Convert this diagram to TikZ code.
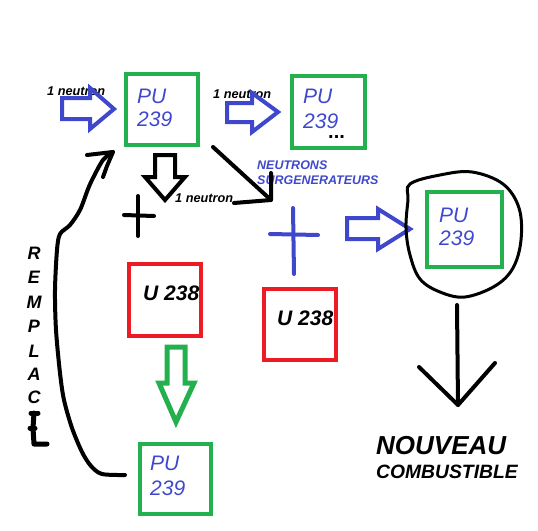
\documentclass[tikz,border=0pt]{standalone}
\usepackage{fontspec}
\setmainfont{Liberation Sans}
\definecolor{pblue}{HTML}{3F48CC}
\definecolor{pgreen}{HTML}{22B14C}
\definecolor{pred}{HTML}{ED1C24}
\begin{document}
\begin{tikzpicture}[x=1pt,y=-1pt,
  gbox/.style={draw=pgreen,line width=4pt,anchor=north west,inner sep=0pt,minimum width=72pt,minimum height=71pt},
  rbox/.style={draw=pred,line width=4pt,anchor=north west,inner sep=0pt,minimum width=72pt,minimum height=72pt},
  putxt/.style={anchor=base west,inner sep=0pt,text=pblue,font=\fontsize{21}{21}\selectfont\itshape},
  utxt/.style={anchor=base west,inner sep=0pt,font=\fontsize{21}{21}\selectfont\bfseries\itshape},
  ntxt/.style={anchor=base west,inner sep=0pt,font=\fontsize{12.7}{12.7}\selectfont\bfseries\itshape},
  stxt/.style={anchor=base west,inner sep=0pt,text=pblue,font=\fontsize{12.5}{12.5}\selectfont\bfseries\itshape},
  rtxt/.style={anchor=base,inner sep=0pt,font=\fontsize{18}{18}\selectfont\bfseries\itshape},
  barrow/.style={draw=pblue,line width=4pt,line join=miter},
  stroke/.style={draw=black,line width=4pt,line cap=round,line join=round}]
\useasboundingbox (0,0) rectangle (538,530);
% boxes
\node[gbox] (b1) at (124,72) {};
\node[gbox,minimum width=73pt,minimum height=72pt] (b2) at (290,74) {};
\node[gbox,minimum width=75pt,minimum height=75pt] (b4) at (425,190) {};
\node[gbox,minimum width=71pt,minimum height=70pt] (b3) at (138,442) {};
\node[rbox] (r1) at (127,262) {};
\node[rbox,minimum height=71pt] (r2) at (262,287) {};
% box texts
\node[putxt] (t1a) at (137,103) {PU};
\node[putxt] (t1b) at (137,126) {239};
\node[putxt] (t2a) at (303,103) {PU};
\node[putxt] (t2b) at (303,128) {239};
\node[putxt] (t4a) at (439,222) {PU};
\node[putxt] (t4b) at (439,245) {239};
\node[putxt] (t3a) at (150,470) {PU};
\node[putxt] (t3b) at (150,495) {239};
\node[anchor=base west,inner sep=0pt,font=\fontsize{20}{20}\selectfont\bfseries] (dots) at (328,138) {...};
\node[utxt] (u1) at (143,300) {U 238};
\node[utxt] (u2) at (277,325) {U 238};
% labels
\node[ntxt] (n1) at (47,95) {1 neutron};
\node[ntxt] (n2) at (213,98) {1 neutron};
\node[ntxt] (n3) at (175,202) {1 neutron};
\node[stxt] (s1) at (257,169) {NEUTRONS};
\node[stxt] (s2) at (257,184) {SURGENERATEURS};
\node[anchor=base west,inner sep=0pt,font=\fontsize{26}{26}\selectfont\bfseries\itshape] (nv) at (376,454) {NOUVEAU};
\node[anchor=base west,inner sep=0pt,font=\fontsize{19.3}{19.3}\selectfont\bfseries\itshape] (cb) at (376,478) {COMBUSTIBLE};
% REMPLACE
\node[rtxt] (l1) at (34,259) {R};
\node[rtxt] (l2) at (34,283) {E};
\node[rtxt] (l3) at (34,308) {M};
\node[rtxt] (l4) at (34,332) {P};
\node[rtxt] (l5) at (34,357) {L};
\node[rtxt] (l6) at (34,380) {A};
\node[rtxt] (l7) at (34,403) {C};
\draw[draw=black,line width=5pt,line cap=round,line join=round] (31,413) -- (38,413);
\draw[draw=black,line width=5pt,line cap=round,line join=round] (34,413) -- (33,428) -- (34,444) -- (47,444);
\draw[draw=black,line width=5pt,line cap=round] (30,428) -- (35,428);
% blue block arrows
\draw[barrow] (62,98) -- (90,98) -- (90,88) -- (114,109) -- (90,129) -- (90,119) -- (62,119) -- cycle;
\draw[barrow] (227,103) -- (252,103) -- (252,93) -- (278,112) -- (252,132) -- (252,122) -- (227,122) -- cycle;
\draw[barrow] (347,218) -- (378,218) -- (378,209) -- (410,229) -- (378,249) -- (378,239) -- (347,239) -- cycle;
% black block arrow
\draw[draw=black,line width=4pt,line join=miter] (155,155) -- (175,155) -- (175,177) -- (185,177) -- (165,200) -- (145,177) -- (155,177) -- cycle;
% green block arrow
\draw[draw=pgreen,line width=5pt,line join=miter] (167,347) -- (185,347) -- (185,383) -- (194,383) -- (176,422) -- (159,383) -- (167,383) -- cycle;
% crosses
\draw[stroke] (138,196) -- (138,236);
\draw[stroke] (124,215) -- (154,216);
\draw[draw=pblue,line width=4pt,line cap=round] (293,208) -- (294,274);
\draw[draw=pblue,line width=4pt,line cap=round] (270,234) -- (318,235);
% diagonal arrow
\coordinate (d0) at (213,147);
\coordinate (d1) at (271,200);
\coordinate (d2) at (271,173);
\coordinate (d3) at (234,203);
\draw[stroke] (d0) -- (d1);
\draw[stroke] (d2) -- (d1) -- (d3);
% circle
\draw[black,line width=3pt] plot[smooth cycle,tension=0.6] coordinates {(410,184) (440,175) (472,172) (503,184) (519,208) (521,240) (513,268) (495,286) (465,297) (440,292) (420,279) (410,255) (406,228) (408,200)};
% down arrow
\coordinate (v0) at (457,305);
\coordinate (v1) at (458,405);
\coordinate (v2) at (419,367);
\coordinate (v3) at (495,363);
\draw[stroke] (v0) -- (v1);
\draw[stroke] (v2) -- (v1) -- (v3);
% left return curve
\draw[stroke] plot[smooth,tension=0.5] coordinates {(125,475) (102,474) (91,466) (82,452) (72,428) (64,400) (60,373) (56,330) (55,290) (57,250) (60,234) (70,225) (80,210) (88,189) (93,178) (103,160) (113,152)};
\draw[stroke] (87,155) -- (113,152) -- (107,166) -- (103,177);
\end{tikzpicture}
\end{document}
